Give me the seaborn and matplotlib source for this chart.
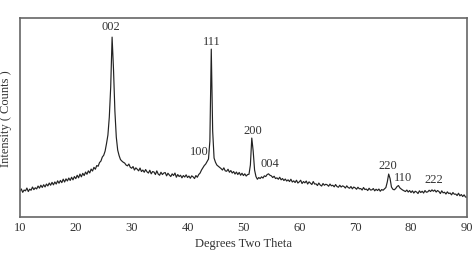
import numpy as np
import pandas as pd
import matplotlib
matplotlib.use("Agg")
import matplotlib.pyplot as plt
import seaborn as sns

# XRD scan, 0.25 degree step from 10 to 90 (counts)
two_theta = np.arange(10, 90.001, 0.25)
counts = [
    258, 281, 247, 270,  262, 290, 255, 279,  268, 300, 274, 293,  281, 310, 289, 318,   # 10-13
    296, 323, 301, 330,  311, 340, 318, 347,  322, 351, 330, 362,  338, 366, 344, 379,   # 14-17
    350, 382, 361, 390,  366, 398, 372, 405,  384, 418, 392, 430,  402, 437, 415, 450,   # 18-21
    428, 462, 441, 480,  460, 497, 478, 515,  508, 545, 560, 600,  618, 660, 735, 820,   # 22-25
    1000, 1300, 1800, 1480,  1060, 800, 670, 615,  575, 560, 548, 540,  520, 512, 530, 498,  # 26-29
    488, 505, 470, 492,  478, 462, 490, 455,  470, 448, 475, 452,  440, 468, 432, 455,   # 30-33
    450, 425, 462, 430,  418, 448, 425, 440,  445, 412, 438, 420,  405, 432, 415, 440,   # 34-37
    398, 425, 405, 418,  392, 415, 400, 422,  395, 410, 388, 412,  402, 385, 415, 398,   # 38-41
    425, 440, 470, 492,  515, 530, 555, 580,  760, 1680, 860, 590,  548, 520, 508, 495,  # 42-45
    485, 470, 492, 462,  458, 478, 448, 465,  440, 455, 430, 450,  425, 446, 418, 438,   # 46-49
    415, 432, 410, 425,  428, 520, 790, 660,  470, 405, 378, 395,  385, 402, 390, 412,   # 50-53
    405, 425, 432, 418,  412, 395, 408, 385,  392, 378, 398, 372,  385, 365, 380, 360,   # 54-57
    372, 355, 378, 350,  362, 345, 368, 340,  352, 368, 335, 355,  342, 360, 330, 352,   # 58-61
    338, 325, 355, 330,  332, 315, 340, 320,  310, 335, 318, 328,  322, 308, 330, 312,   # 62-65
    318, 302, 325, 305,  298, 318, 300, 312,  305, 290, 312, 295,  288, 305, 282, 300,   # 66-69
    292, 278, 298, 282,  285, 270, 295, 275,  280, 265, 288, 270,  272, 285, 262, 278,   # 70-73
    265, 280, 258, 275,  268, 282, 295, 350,  430, 385, 300, 278,  272, 285, 305, 315,   # 74-77
    292, 280, 270, 262,  255, 270, 250, 265,  245, 262, 240, 258,  250, 235, 262, 245,   # 78-81
    258, 240, 265, 248,  252, 268, 255, 272,  258, 270, 250, 265,  255, 235, 262, 242,   # 82-85
    248, 230, 252, 235,  240, 222, 245, 228,  230, 215, 238, 212,  225, 205, 222, 200,   # 86-89
    198,
]

# peak labels: (text, two theta, counts)
peak_names = ["002", "111", "100", "200", "004", "220", "110", "222"]
peak_x = [26.3, 44.26, 42.1, 51.6, 54.7, 75.8, 78.5, 84.1]
peak_y = [1910, 1760, 660, 870, 540, 520, 400, 380]

df = pd.DataFrame({"two_theta": two_theta, "counts": counts})

sns.set_style("white")
plt.rcParams["font.family"] = ["Liberation Serif", "DejaVu Serif"]

fig = plt.figure(figsize=(4.74, 2.55), dpi=100)
ax = fig.add_axes([0.042, 0.145, 0.943, 0.78])

sns.lineplot(data=df, x="two_theta", y="counts", ax=ax,
             color="#222222", linewidth=0.85)

for name, px, py in zip(peak_names, peak_x, peak_y):
    ax.text(px, py, name, ha="center", va="center", fontsize=9, color="#333333")

ax.set_xlim(10, 90)
ax.set_ylim(0, 1990)
ax.set_xticks(range(10, 91, 10))
ax.set_yticks(np.linspace(0, 1990, 8)[1:-1])
ax.set_yticklabels([])
ax.tick_params(axis="x", direction="in", length=2, width=0.5, colors="#777777",
               labelcolor="#333333", labelsize=9, pad=3)
ax.tick_params(axis="y", direction="in", length=2, width=0.5, colors="#999999")

ax.set_xlabel("Degrees Two Theta", fontsize=9, color="#333333", labelpad=3)
ax.set_ylabel("Intensity ( Counts )", fontsize=9, color="#333333", labelpad=2)

for s in ax.spines.values():
    s.set_color("#666666")
    s.set_linewidth(1.2)

fig.savefig("out.png", dpi=100)
